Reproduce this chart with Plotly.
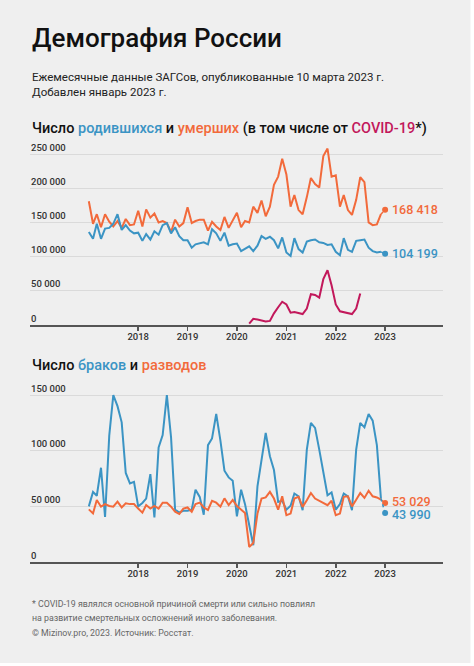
import plotly.graph_objects as go
import pandas as pd

# ---------------- data ----------------
months = [d.strftime("%Y-%m-%d") for d in pd.date_range("2017-01-01", "2022-12-01", freq="MS")]
last_month = "2023-01-01"

births = [136, 126, 148, 126, 141, 142, 148, 162, 139, 146, 138, 134,
          135, 123, 133, 125, 137, 132, 146, 149, 134, 143, 130, 124,
          124, 113, 118, 120, 121, 118, 140, 134, 123, 135, 116, 118,
          119, 108, 111, 115, 108, 116, 130, 126, 129, 124, 112, 128,
          106, 101, 127, 111, 106, 122, 124, 125, 121, 120, 117, 118,
          107, 102, 127, 110, 107, 123, 124, 125, 113, 108, 106, 107]
births_last = 104199

deaths = [181, 148, 162, 143, 162, 151, 144, 152, 142, 155, 146, 147,
          167, 144, 169, 157, 163, 150, 152, 149, 136, 154, 144, 149,
          172, 149, 152, 154, 154, 138, 151, 144, 139, 158, 142, 152,
          164, 143, 152, 150, 173, 164, 182, 159, 173, 205, 217, 243,
          220, 173, 190, 168, 162, 187, 215, 206, 201, 247, 258, 217,
          219, 173, 190, 168, 161, 183, 216, 209, 150, 146, 147, 162]
deaths_last = 168418

covid_months = [d.strftime("%Y-%m-%d") for d in pd.date_range("2020-04-01", "2022-07-01", freq="MS")]
covid = [2, 9, 8, 6.5, 5, 6, 17, 26, 34, 30, 18, 19,
         17, 16, 24, 45, 44, 40, 67, 80, 58, 30, 20, 19,
         17, 16, 24, 46]

marriages = [50, 63, 59.5, 84.7, 40.5, 113.5, 150, 140, 125.5, 80, 70.6, 72,
             50, 53, 57, 79, 40, 103, 114, 150, 112, 47, 44.5, 46,
             46, 47, 65, 58.5, 42.5, 105, 111, 133, 109, 82, 76, 73,
             41, 65, 52, 33, 15, 68, 94, 116, 95, 82.6, 54, 55,
             47, 50.5, 61.5, 59, 46.6, 101, 125, 120.5, 101, 82, 60, 62.5,
             47, 52, 61.5, 59, 46.5, 101, 125, 121, 133, 127, 105, 57]
marriages_last = 43990

divorces = [47.3, 43.7, 55.7, 49.7, 52, 50.3, 49.7, 54.2, 49, 52.7, 52, 52,
            48, 44.3, 51.2, 48, 50.3, 48, 53.3, 53.3, 49.7, 45.2, 43.1, 48,
            49, 45.2, 52, 53.3, 49, 46.7, 55, 53.3, 49.7, 57.2, 51.2, 55.7,
            50.3, 47, 44, 13.5, 17, 43.5, 57, 58, 63, 57, 47, 59,
            42, 43.5, 57, 58.5, 49.5, 55.5, 62, 57, 55, 53, 51, 55,
            42, 43.5, 58.5, 59, 50, 56, 62, 57.6, 64, 59, 58, 56]
divorces_last = 53029

year_ticks = ["2018-01-01", "2019-01-01", "2020-01-01", "2021-01-01", "2022-01-01", "2023-01-01"]
year_labels = ["2018", "2019", "2020", "2021", "2022", "2023"]
y1_ticks = [0, 50000, 100000, 150000, 200000, 250000]
y1_labels = ["0", "50 000", "100 000", "150 000", "200 000", "250 000"]
y2_ticks = [0, 50000, 100000, 150000]
y2_labels = ["0", "50 000", "100 000", "150 000"]

# ---------------- style ----------------
W, H = 474, 666
BG = "#efefef"
BLUE = "#3b94c4"
ORANGE = "#f26a3b"
MAGENTA = "#c2185b"
FONT = "Roboto"


def py(px):
    return 1 - px / H


def k(lst):
    return [v * 1000 for v in lst]


def fmt(v):
    return f"{v:,}".replace(",", " ")


fig = go.Figure()


def end_label(series, last, col, xa, ya, yshift):
    fig.add_trace(go.Scatter(x=[months[-1], last_month], y=[series[-1] * 1000, last], mode="lines",
                             line=dict(color=col, width=1.5, dash="dot"), xaxis=xa, yaxis=ya, hoverinfo="skip"))
    fig.add_trace(go.Scatter(x=[last_month], y=[last], mode="markers", marker=dict(color=col, size=6),
                             xaxis=xa, yaxis=ya, hoverinfo="skip"))
    fig.add_annotation(x=last_month, y=last, xref=xa, yref=ya, text=fmt(last), showarrow=False,
                       xanchor="left", yanchor="middle", xshift=5, yshift=yshift,
                       font=dict(family=FONT, size=12.5, color=col, weight=500))


# chart 1
fig.add_trace(go.Scatter(x=months, y=k(deaths), mode="lines", line=dict(color=ORANGE, width=2),
                         xaxis="x", yaxis="y", hoverinfo="skip"))
fig.add_trace(go.Scatter(x=months, y=k(births), mode="lines", line=dict(color=BLUE, width=2),
                         xaxis="x", yaxis="y", hoverinfo="skip"))
fig.add_trace(go.Scatter(x=covid_months, y=k(covid), mode="lines", line=dict(color=MAGENTA, width=2),
                         xaxis="x", yaxis="y", hoverinfo="skip"))
end_label(deaths, deaths_last, ORANGE, "x", "y", 0)
end_label(births, births_last, BLUE, "x", "y", 0)

# chart 2
fig.add_trace(go.Scatter(x=months, y=k(marriages), mode="lines", line=dict(color=BLUE, width=2),
                         xaxis="x2", yaxis="y2", hoverinfo="skip"))
fig.add_trace(go.Scatter(x=months, y=k(divorces), mode="lines", line=dict(color=ORANGE, width=2),
                         xaxis="x2", yaxis="y2", hoverinfo="skip"))
end_label(divorces, divorces_last, ORANGE, "x2", "y2", 1)
end_label(marriages, marriages_last, BLUE, "x2", "y2", -1)

xdom = [30 / W, 443 / W]
xrange = ["2015-10-24", "2024-03-04"]
xcommon = dict(domain=xdom, range=xrange, type="date", tickmode="array", tickvals=year_ticks,
               ticktext=year_labels, showgrid=False, zeroline=False, showline=True, linecolor="#555555",
               linewidth=1.5, ticks="outside", ticklen=4, tickwidth=1.5, tickcolor="#555555",
               ticklabelstandoff=-2,
               tickfont=dict(family=FONT, size=9.5, color="#333333", weight=500), fixedrange=True)
ycommon = dict(showgrid=True, gridcolor="#dadada", gridwidth=1, zeroline=False, showline=False,
               ticklabelposition="inside top", ticks="", ticklabelstandoff=-2,
               tickfont=dict(family=FONT, size=9.5, color="#333333", weight=500), fixedrange=True)

fig.update_layout(
    width=W, height=H,
    paper_bgcolor=BG, plot_bgcolor=BG,
    margin=dict(l=0, r=0, t=0, b=0),
    showlegend=False,
    xaxis=dict(anchor="y", **xcommon),
    yaxis=dict(anchor="x", domain=[py(325), py(135)], range=[0, 277800], tickmode="array",
               tickvals=y1_ticks, ticktext=y1_labels, **ycommon),
    xaxis2=dict(anchor="y2", **xcommon),
    yaxis2=dict(anchor="x2", domain=[py(562), py(375)], range=[0, 168000], tickmode="array",
                tickvals=y2_ticks, ticktext=y2_labels, **ycommon),
)


def note(text, y_px, size, color="#111111", weight=400):
    fig.add_annotation(text=text, x=30 / W, y=py(y_px), xref="paper", yref="paper",
                       xanchor="left", yanchor="middle", showarrow=False,
                       font=dict(family=FONT, size=size, color=color, weight=weight))


note("Демография России", 38, 26, "#111111", 500)
note("Ежемесячные данные ЗАГСов, опубликованные 10 марта 2023 г.", 77, 11.5, "#222222")
note("Добавлен январь 2023 г.", 92, 11.5, "#222222")
note(f"Число <span style='color:{BLUE}'>родившихся</span> и <span style='color:{ORANGE}'>умерших</span> "
     f"(в том числе от <span style='color:{MAGENTA}'>COVID-19</span>*)", 128, 14.5, "#111111", 500)
note(f"Число <span style='color:{BLUE}'>браков</span> и <span style='color:{ORANGE}'>разводов</span>",
     365, 14.5, "#111111", 500)
note("* COVID-19 являлся основной причиной смерти или сильно повлиял", 604, 8.8, "#666666")
note("на развитие смертельных осложнений иного заболевания.", 618, 8.8, "#666666")
note("© Mizinov.pro, 2023. Источник: Росстат.", 633, 8.8, "#666666")

# white page margins right and bottom
fig.add_shape(type="rect", xref="paper", yref="paper", x0=470.5 / W, x1=1, y0=0, y1=1,
              fillcolor="white", line=dict(width=0), layer="above")
fig.add_shape(type="rect", xref="paper", yref="paper", x0=0, x1=1, y0=0, y1=py(663),
              fillcolor="white", line=dict(width=0), layer="above")

fig.write_html("out.html", config={"displayModeBar": False, "staticPlot": True},
               post_script="document.body.style.margin='0';document.body.style.overflow='hidden';")
